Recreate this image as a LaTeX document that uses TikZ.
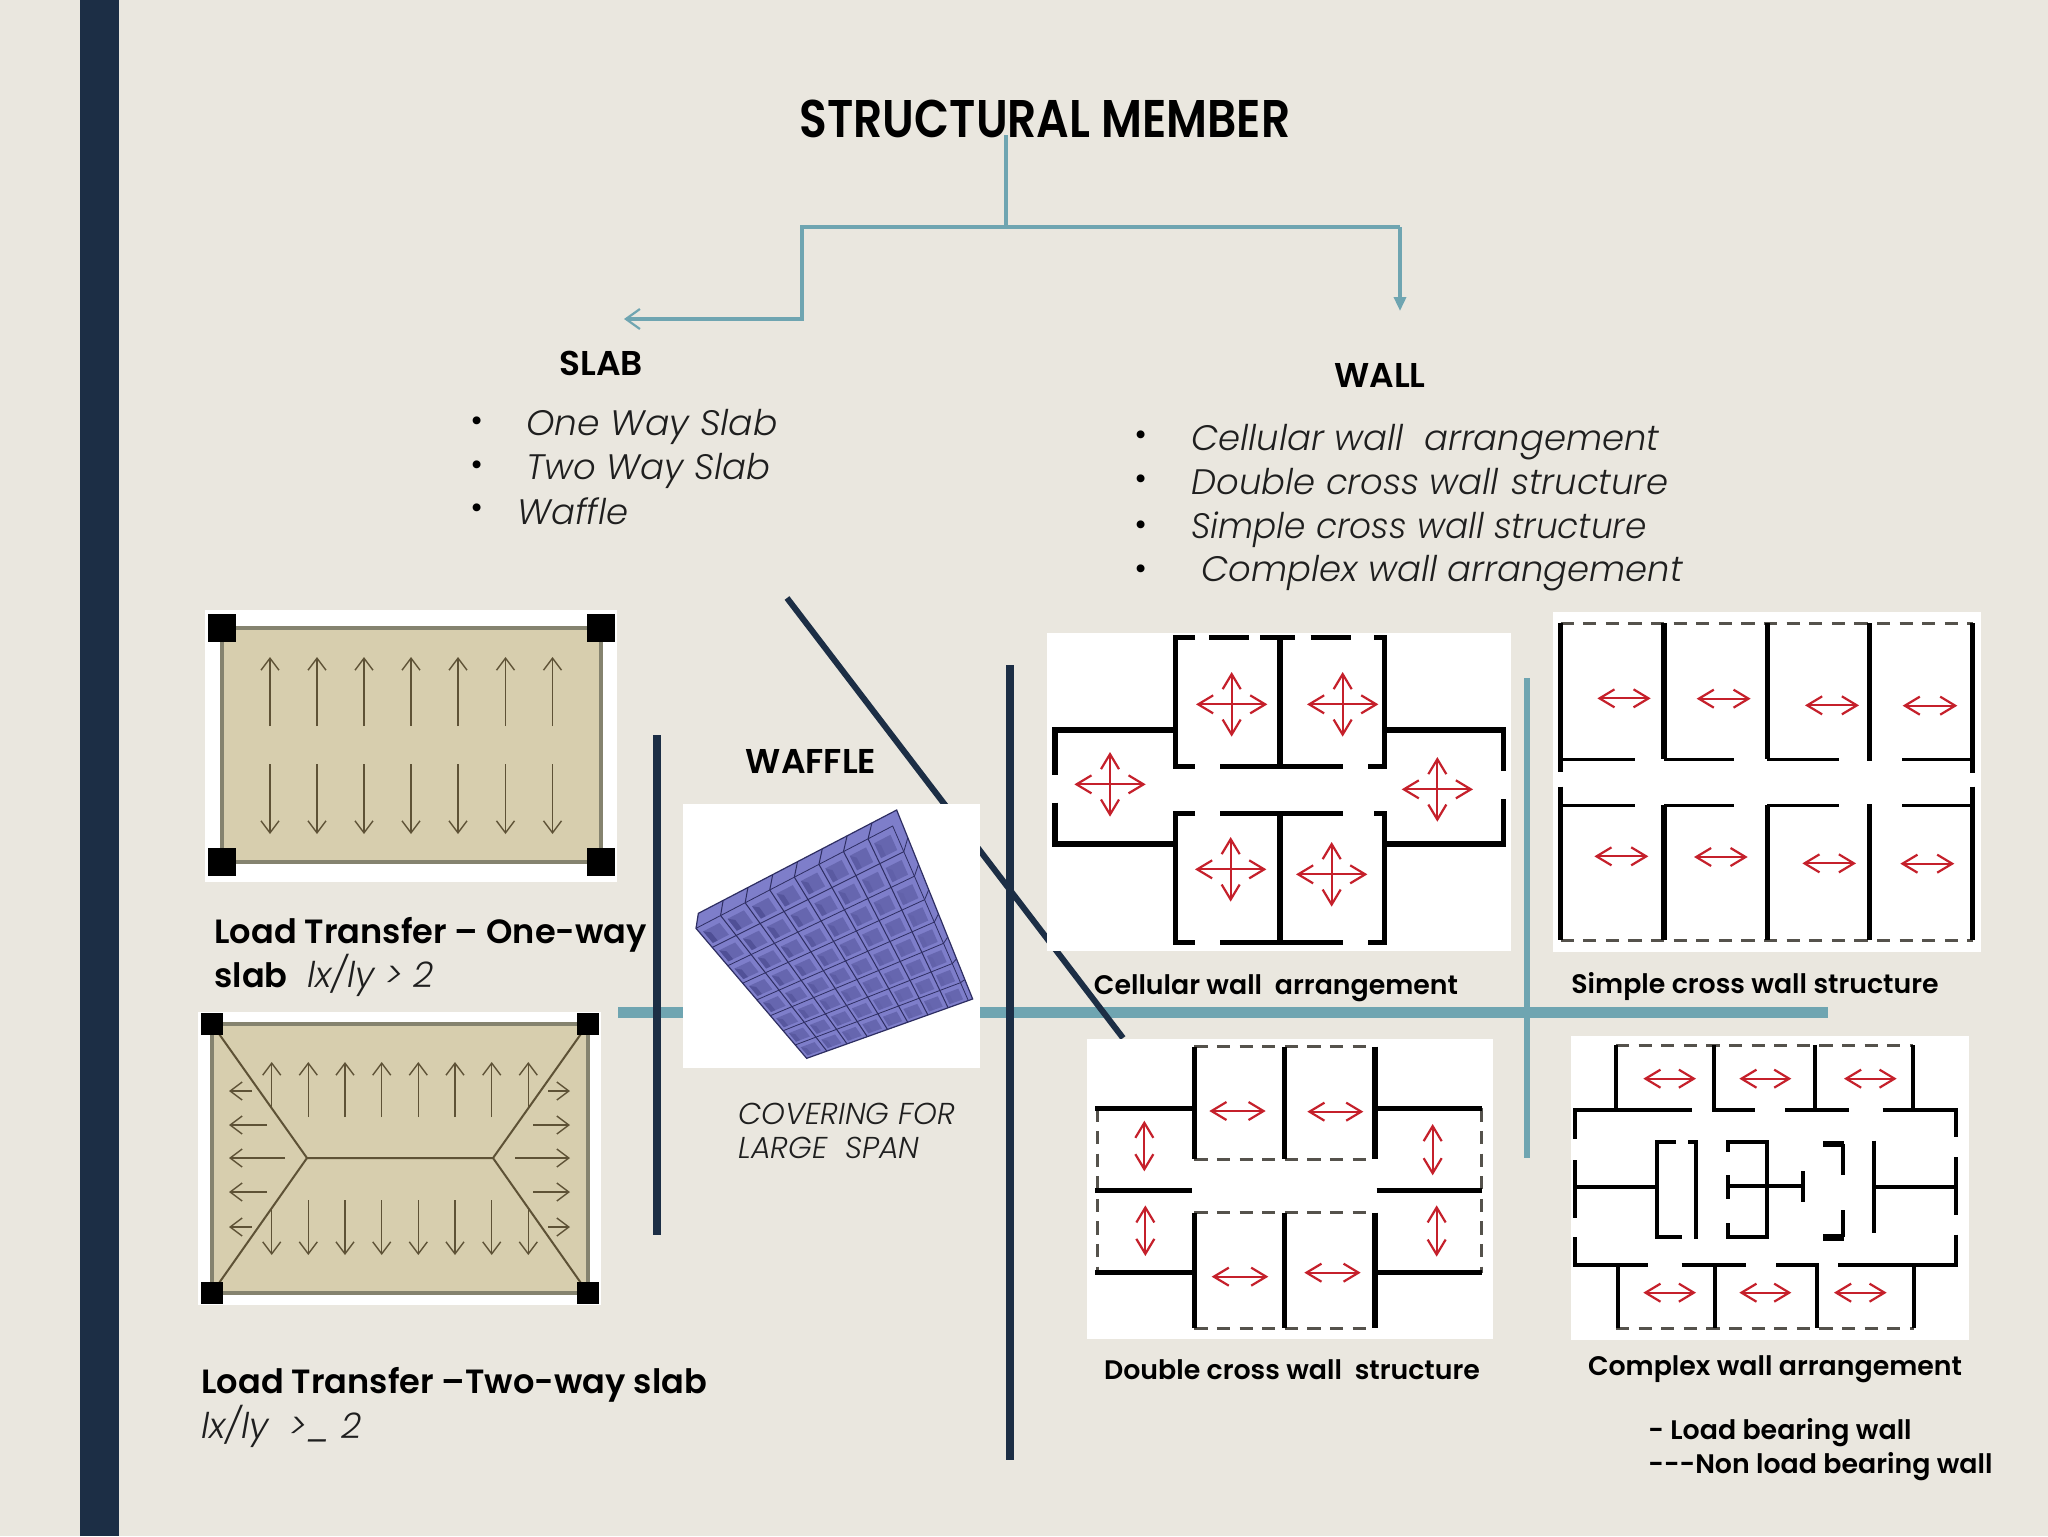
\documentclass[tikz,border=0pt]{standalone}
\usepackage{fontspec}
\setmainfont{Poppins}
\newfontfamily\lightf{Poppins Light}[ItalicFont=Poppins Light Italic]
\newfontfamily\medf{Poppins SemiBold}
\usetikzlibrary{arrows.meta,calc}
\definecolor{bgc}{HTML}{EAE7DF}
\definecolor{navy}{HTML}{1C2E45}
\definecolor{tealc}{HTML}{6FA5B1}
\definecolor{slabc}{HTML}{D7CEAE}
\definecolor{slabe}{HTML}{85836F}
\definecolor{ldc}{HTML}{5E5236}
\definecolor{redc}{HTML}{C5202B}
\definecolor{dashc}{HTML}{55524C}
\definecolor{wA}{HTML}{7E7ECA}
\definecolor{wB}{HTML}{6666AF}
\definecolor{wC}{HTML}{4E4E94}
\definecolor{wD}{HTML}{2E2E62}
\tikzset{
 whitebox/.style={fill=white,draw=none},
 tealline/.style={draw=tealc,line width=2.2pt},
 navyline/.style={draw=navy,line width=4pt},
 wallw/.style={draw=black,line width=2.6pt,line join=miter},
 wallt/.style={draw=black,line width=1.6pt,line join=miter},
 walld/.style={draw=dashc,line width=1.5pt,dash pattern=on 6.6pt off 4.7pt},
 redarr/.style={draw=redc,line width=1pt,{Straight Barb[length=7.5pt,width=9pt,line width=1.1pt]}-{Straight Barb[length=7.5pt,width=9pt,line width=1.1pt]}},
 loadarr/.style={draw=ldc,line width=0.6pt,-{Straight Barb[length=6pt,width=9pt,line width=0.7pt]}},
 slabr/.style={fill=slabc,draw=slabe,line width=2.2pt},
 colsq/.style={fill=black,draw=none},
 boldt/.style={font=\medf\fontsize{16.8}{16.8}\selectfont,anchor=base west,inner sep=0,text=black},
 capt/.style={font=\medf\fontsize{13.4}{13.4}\selectfont,inner sep=0,text=black,anchor=base},
 itemt/.style={font=\lightf\itshape\fontsize{17.7}{17.7}\selectfont,anchor=base west,inner sep=0,text=black!88},
 covt/.style={font=\lightf\itshape\fontsize{15.1}{15.1}\selectfont,anchor=base west,inner sep=0,text=black!88},
 headt/.style={font=\medf\fontsize{17.2}{17.2}\selectfont,inner sep=0,text=black},
 bull/.style={font=\fontsize{16}{16}\selectfont,inner sep=0,text=black},
}
\begin{document}
\begin{tikzpicture}[x=0.5pt,y=-0.5pt]
\useasboundingbox (0,0) rectangle (2048,1536);
\fill[bgc] (0,0) rectangle (2048,1536);
\fill[navy] (80,0) rectangle (119,1536);

% connectors
\node[font=\medf\fontsize{26.5}{26.5}\selectfont,inner sep=0,text=black] (title) at (1045,119) {\scalebox{0.86}[1]{STRUCTURAL MEMBER}};
\coordinate (jn) at (1006,227);
\coordinate (lt) at (802,227);
\coordinate (rt) at (1400,227);
\coordinate (lb) at (802,319);
\coordinate (ltip) at (624,319);
\coordinate (rtip) at (1400,311);
\coordinate (ttop) at (1006,135);
\draw[tealline] (ttop)--(jn);
\draw[tealline] (lt)--(rt);
\draw[tealline,line cap=rect] (lt)--(lb);
\draw[tealline,-{Straight Barb[length=7pt,width=10pt,line width=1.1pt]}] (lb)--(ltip);
\draw[draw=tealc,line width=1.7pt,-{Triangle[length=7pt,width=6pt]}] (rt)--(rtip);

% big lines
\fill[tealc] (618,1007) rectangle (1828,1018);
\fill[tealc] (1524,678) rectangle (1530,1158);
\draw[navyline] (657,735)--(657,1235);
\draw[navyline] (1010,665)--(1010,1460);
\draw[draw=navy,line width=3pt] (787,598)--(1123,1038);

% one-way slab
\fill[whitebox] (205,610) rectangle (617,882);
\draw[slabr] (222,628) rectangle (601,862);
\foreach \xx in {270,317,364,411,458,505.5,552.5}{
 \draw[loadarr] (\xx,726)--(\xx,657);
 \draw[loadarr] (\xx,764)--(\xx,834);
}
\foreach \xx/\yy in {222/628,601/628,222/862,601/862}
 \fill[colsq] (\xx-14,\yy-14) rectangle (\xx+14,\yy+14);

% two-way slab
\fill[whitebox] (198,1012) rectangle (601,1305);
\draw[slabr] (212,1024) rectangle (588,1293);
\draw[draw=ldc,line width=1pt] (212,1024)--(307,1158)--(493,1158)--(588,1024);
\draw[draw=ldc,line width=1pt] (212,1293)--(307,1158);
\draw[draw=ldc,line width=1pt] (493,1158)--(588,1293);
\foreach \xx in {308.3,345,381.7,418.3,455,491.7}{
 \draw[loadarr] (\xx,1117)--(\xx,1062);
 \draw[loadarr] (\xx,1200)--(\xx,1255);
}
\foreach \xx in {271.7,528.3}{
 \draw[loadarr] (\xx,1107)--(\xx,1062);
 \draw[loadarr] (\xx,1208)--(\xx,1255);
}
\foreach \yy/\ta/\tb in {1091/252/548,1125/267/533,1158/285/515,1192/267/533,1227/252/548}{
 \draw[loadarr] (\ta,\yy)--(229,\yy);
 \draw[loadarr] (\tb,\yy)--(570,\yy);
}
\foreach \xx/\yy in {212/1024,588/1024,212/1293,588/1293}
 \fill[colsq] (\xx-11,\yy-11) rectangle (\xx+11,\yy+11);

% waffle
\fill[whitebox] (683,804) rectangle (980,1068);
\begin{scope}[shift={(670,790)},scale=1/3]
 \coordinate (A) at (78,415);
 \coordinate (T) at (668,108);
 \coordinate (C) at (895,632);
 \coordinate (D) at (410,805);
 \fill[wA] (85,370)--(680,60)--(908,627)--(410,805)--(78,415)--cycle;
 \foreach \i in {0,...,7}{
  \foreach \j in {0,...,7}{
   \pgfmathsetmacro\ua{(\i+0.13)/8}
   \pgfmathsetmacro\ub{(\i+0.8)/8}
   \pgfmathsetmacro\sa{(\j+0.24)/8}
   \pgfmathsetmacro\sb{(\j+0.84)/8}
   \pgfmathsetmacro\va{\sa*(1.2-0.2*\sa)}
   \pgfmathsetmacro\vb{\sb*(1.2-0.2*\sb)}
   \pgfmathsetmacro\uc{\ua+0.3*(\ub-\ua)}
   \pgfmathsetmacro\vc{\va+0.3*(\vb-\va)}
   \pgfmathsetmacro\op{max(0.15,1-0.1*\i-0.08*\j)}
   \fill[wB] ($($(A)!\ua!(T)$)!\va!($(D)!\ua!(C)$)$)--($($(A)!\ub!(T)$)!\va!($(D)!\ub!(C)$)$)--($($(A)!\ub!(T)$)!\vb!($(D)!\ub!(C)$)$)--($($(A)!\ua!(T)$)!\vb!($(D)!\ua!(C)$)$)--cycle;
   \fill[wC,opacity=\op] ($($(A)!\ua!(T)$)!\va!($(D)!\ua!(C)$)$)--($($(A)!\uc!(T)$)!\vc!($(D)!\uc!(C)$)$)--($($(A)!\uc!(T)$)!\vb!($(D)!\uc!(C)$)$)--($($(A)!\ua!(T)$)!\vb!($(D)!\ua!(C)$)$)--cycle;
  }
 }
 \foreach \i in {1,...,7}{
  \pgfmathsetmacro\ua{\i/8}
  \draw[wD,line width=0.5pt] ($(A)!\ua!(T)$)--($(D)!\ua!(C)$);
  \coordinate (tp) at ($(85,370)!\ua!(680,60)$);
  \draw[wD,line width=0.5pt] (tp)--($(A)!\ua!(T)$);
  \pgfmathsetmacro\sa{\i/8}
  \pgfmathsetmacro\va{\sa*(1.2-0.2*\sa)}
  \draw[wD,line width=0.4pt] ($(A)!\va!(D)$)--($(T)!\va!(C)$);
  \coordinate (rp) at ($(680,60)!\va!(908,627)$);
  \draw[wD,line width=0.4pt] (rp)--($(T)!\va!(C)$);
 }
 \draw[wD,line width=0.4pt] (A)--(T)--(C);
 \draw[wD,line width=0.6pt] (85,370)--(680,60)--(908,627)--(410,805)--(78,415)--cycle;
\end{scope}

% cellular
\fill[whitebox] (1047,633) rectangle (1511,951);
\begin{scope}[shift={(1040,620)},scale=1/3]
 \draw[wallw] (465,52)-|(407,440)--(465,440);
 \draw[wallw] (407,330)-|(45,465);
 \draw[wallw] (508,52)--(628,52);
 \draw[wallw] (660,52)--(765,52);
 \draw[wallw] (812,52)--(932,52);
 \draw[wallw] (720,52)--(720,440);
 \draw[wallw] (540,440)--(908,440);
 \draw[wallw] (985,440)-|(1033,52)--(1003,52);
 \draw[wallw] (1033,330)-|(1390,453);
 \draw[wallw] (45,548)|-(407,672);
 \draw[wallw] (465,580)-|(407,968)--(465,968);
 \draw[wallw] (540,580)--(908,580);
 \draw[wallw] (720,580)--(720,968);
 \draw[wallw] (540,968)--(908,968);
 \draw[wallw] (1003,580)-|(1033,968)--(985,968);
 \draw[wallw] (1033,672)-|(1390,537);
 \foreach \cx/\cy in {575/253,908/253,210/493,1192/508,572/748,875/763}{
  \draw[redarr] ($(\cx,\cy)+(-107,0)$)--($(\cx,\cy)+(107,0)$);
  \draw[redarr] ($(\cx,\cy)+(0,-97)$)--($(\cx,\cy)+(0,97)$);
 }
\end{scope}

% simple cross
\fill[whitebox] (1553,612) rectangle (1981,952);
\begin{scope}[shift={(1540,600)},scale=1/3]
 \draw[walld] (62,70)--(1298,70);
 \draw[walld] (62,1020)--(1298,1020);
 \foreach \xx/\ya/\yb/\yc in {62/515/560/1020,372/478/615/1020,682/478/615/1020,988/482/612/1020,1298/520/560/1020}{
  \draw[wallw] (\xx,70)--(\xx,\ya);
  \draw[wallw] (\xx,\yb)--(\xx,\yc);
 }
 \foreach \ya/\yb in {62/285,372/582,682/898,1087/1298}{
  \draw[wallt] (\ya,478)--(\yb,478);
  \draw[wallt] (\ya,617)--(\yb,617);
 }
 \foreach \ya/\yb/\yy in {172/332/295,470/632/296,795/957/316,1088/1252/317,163/325/769,462/623/771,787/948/790,1081/1243/791}
  \draw[redarr] (\ya,\yy)--(\yb,\yy);
\end{scope}

% double cross
\fill[whitebox] (1087,1039) rectangle (1493,1339);
\begin{scope}[shift={(1070,1030)},scale=1/3]
 \foreach \yy in {50,388,546,895}\draw[walld] (373,\yy)--(915,\yy);
 \draw[walld] (82,235)--(82,728);
 \draw[walld] (1235,235)--(1235,728);
 \draw[wallw] (75,235)--(373,235);
 \draw[wallw] (373,50)--(373,388);
 \draw[wallw] (643,50)--(643,388);
 \draw[wallw] (915,50)--(915,388);
 \draw[wallw] (915,235)--(1237,235);
 \draw[wallw] (75,482)--(365,482);
 \draw[wallw] (920,482)--(1237,482);
 \draw[wallw] (75,728)--(373,728);
 \draw[wallw] (373,548)--(373,893);
 \draw[wallw] (643,548)--(643,893);
 \draw[wallw] (915,548)--(915,893);
 \draw[wallw] (915,728)--(1237,728);
 \foreach \ya/\yb/\yy in {418/587/243,712/880/245,425/595/740,703/872/728}
  \draw[redarr] (\ya,\yy)--(\yb,\yy);
 \foreach \xx/\ya/\yb in {223/272/424,1088/282/436,226/526/678,1100/526/680}
  \draw[redarr] (\xx,\ya)--(\xx,\yb);
\end{scope}

% complex
\fill[whitebox] (1571,1036) rectangle (1969,1340);
\begin{scope}[shift={(1560,1030)},scale=1/3,wallw/.append style={line width=2.1pt}]
 \draw[walld] (168,45)--(1058,45);
 \draw[walld] (168,895)--(1063,895);
 \draw[wallw] (168,45)--(168,240);
 \draw[wallw] (463,45)|-(585,240);
 \draw[wallw] (765,45)--(765,240);
 \draw[wallw] (1058,45)--(1058,240);
 \draw[wallw] (395,240)-|(45,327);
 \draw[wallw] (675,240)--(868,240);
 \draw[wallw] (968,240)-|(1187,322);
 \draw[wallw] (45,390)--(45,563);
 \draw[wallw] (45,470)--(290,470);
 \draw[wallw] (348,337)-|(290,622)--(367,622);
 \draw[wallw] (385,337)-|(408,627);
 \draw[wallw] (505,365)|-(620,337)|-(505,622)--(505,578);
 \draw[wallw] (505,435)--(505,507);
 \draw[wallw] (505,467)--(730,467);
 \draw[wallw] (730,423)--(730,515);
 \draw[wallw] (848,342)--(848,435);
 \draw[wallw,line width=3.2pt] (790,342)--(852,342);
 \draw[wallw] (848,540)--(848,622);
 \draw[wallw,line width=3.2pt] (790,622)--(852,622);
 \draw[wallw] (942,332)--(942,610);
 \draw[wallw] (942,470)--(1187,470);
 \draw[wallw] (1187,382)--(1187,555);
 \draw[wallw] (1187,614)|-(835,705);
 \draw[wallw] (45,622)|-(265,705);
 \draw[wallw] (365,705)--(558,705);
 \draw[wallw] (648,705)-|(770,895);
 \draw[wallw] (173,705)--(173,895);
 \draw[wallw] (465,705)--(465,895);
 \draw[wallw] (1063,705)--(1063,895);
 \foreach \ya/\yb/\yy in {250/408/146,538/694/146,852/1010/146,250/408/788,538/694/788,822/980/788}
  \draw[redarr] (\ya,\yy)--(\yb,\yy);
\end{scope}

% texts
\node[headt] (slabh) at (601,363) {SLAB};
\node[headt] (wallh) at (1380,375) {WALL};
\node[headt] (wafh) at (811,761) {WAFFLE};
\foreach \nm/\yy in {ba/424,bb/468,bc/511}\node[bull] (\nm) at (477,\yy) {•};
\node[itemt] (ia) at (526,435) {\scalebox{1.02}[1]{One Way Slab}};
\node[itemt] (ib) at (526,479) {Two Way Slab};
\node[itemt] (ic) at (517,524) {Waffle};
\foreach \nm/\yy in {bd/438,be/482,bf/528,bg/572}\node[bull] (\nm) at (1141,\yy) {•};
\node[itemt] (id) at (1191,450) {Cellular wall\ \ arrangement};
\node[itemt] (ie) at (1191,494) {Double cross wall\hspace{0.35em}structure};
\node[itemt] (if) at (1191,538) {\scalebox{0.97}[1]{Simple cross wall structure}};
\node[itemt] (ig) at (1201,581) {Complex wall arrangement};
\node[covt] (cova) at (738,1124) {COVERING FOR};
\node[covt] (covb) at (738,1158) {LARGE\ \ SPAN};
\node[boldt] (la) at (214,943) {Load Transfer – One-way};
\node[boldt] (lb2) at (214,987) {slab};
\node[itemt] (lc) at (307,987) {lx/ly > 2};
\node[boldt] (ld) at (201,1393) {Load Transfer –Two-way slab};
\node[itemt] (le) at (201,1438) {lx/ly\ \ >\_ 2};
\node[capt] (ca) at (1276,994) {Cellular wall\ \ arrangement};
\node[capt] (cb) at (1755,993) {Simple cross wall structure};
\node[capt] (cc) at (1292,1379) {Double cross wall\ \ structure};
\node[capt] (cd) at (1775,1375) {Complex wall arrangement};
\node[capt,anchor=base west] (ce) at (1648,1439) {- Load bearing wall};
\node[capt,anchor=base west] (cf) at (1648,1473) {---Non load bearing wall};
\end{tikzpicture}
\end{document}
